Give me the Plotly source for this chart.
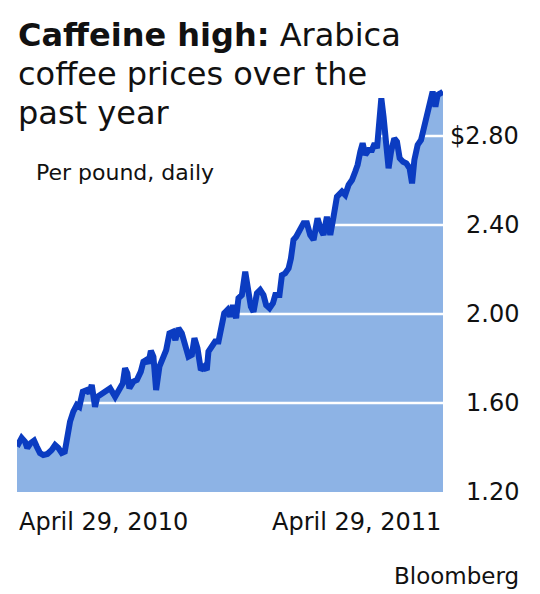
import pandas as pd
import plotly.graph_objects as go

# days after April 29, 2010 and arabica price in $ per pound
days = [
    0, 4.0, 6.9, 8.8, 11.7, 14.6, 16.9, 19.7, 22.5, 26.0, 29.7, 32.6, 35.4, 38.3,
    40.9, 43.1, 45.4, 48.2, 51.2, 53.4, 56.3, 59.7, 61.9, 64.0, 66.8, 68.8, 72.6,
    76.9, 79.7, 84.0, 86.8, 90.6, 92.5, 94.5, 96.2, 99.6, 102.6, 106.0, 108.2,
    110.5, 112.5, 114.6, 116.8, 119.1, 121.9, 124.8, 127.7, 130.5, 133.4, 135.6,
    138.2, 141.1, 143.9, 146.8, 149.7, 151.9, 154.5, 157.4, 160.2, 162.5, 163.9,
    166.8, 169.6, 172.5, 175.4, 177.4, 180.2, 182.5, 184.8, 187.6, 189.6, 192.5,
    195.4, 198.2, 200.2, 202.5, 205.4, 208.2, 211.0, 213.3, 216.2, 219.1, 221.1,
    224.7, 226.8, 229.6, 232.5, 234.5, 236.7, 239.0, 241.9, 245.3, 248.2, 251.0,
    253.9, 257.3, 260.2, 262.4, 265.3, 268.2, 271.0, 273.9, 278.2, 281.0, 283.9,
    286.8, 289.6, 291.6, 293.9, 295.9, 298.2, 301.0, 303.9, 306.2, 308.2, 310.4,
    311.9, 313.8, 316.2, 318.1, 320.2, 323.0, 325.3, 327.6, 330.5, 333.3, 336.1,
    338.2, 340.2, 343.0, 345.9, 348.1, 350.4, 352.4, 353.9, 355.8, 358.2, 360.1,
    362.4, 364.7,
]
prices = [
    1.404, 1.443, 1.426, 1.398, 1.420, 1.431, 1.404, 1.375, 1.366, 1.371, 1.389,
    1.411, 1.398, 1.375, 1.381, 1.449, 1.516, 1.561, 1.591, 1.583, 1.651, 1.658,
    1.644, 1.681, 1.583, 1.628, 1.644, 1.658, 1.666, 1.628, 1.658, 1.689, 1.756,
    1.733, 1.666, 1.696, 1.703, 1.741, 1.786, 1.793, 1.778, 1.835, 1.808, 1.658,
    1.763, 1.796, 1.838, 1.913, 1.920, 1.883, 1.936, 1.913, 1.853, 1.808, 1.816,
    1.891, 1.846, 1.748, 1.763, 1.748, 1.831, 1.853, 1.876, 1.876, 1.973, 2.003,
    2.018, 1.988, 2.040, 1.981, 2.071, 2.085, 2.190, 2.108, 2.033, 2.010, 2.093,
    2.108, 2.085, 2.040, 2.026, 2.048, 2.085, 2.085, 2.175, 2.183, 2.205, 2.250,
    2.333, 2.347, 2.378, 2.408, 2.408, 2.355, 2.333, 2.430, 2.378, 2.355, 2.437,
    2.355, 2.437, 2.527, 2.550, 2.535, 2.580, 2.602, 2.640, 2.670, 2.729, 2.767,
    2.715, 2.737, 2.737, 2.767, 2.745, 2.887, 2.969, 2.887, 2.752, 2.655, 2.729,
    2.789, 2.774, 2.700, 2.684, 2.677, 2.655, 2.587, 2.692, 2.760, 2.782, 2.827,
    2.887, 2.917, 2.962, 2.999, 2.932, 2.984, 2.991, 2.999,
]
grid_values = [1.60, 2.00, 2.40, 2.80]
tick_values = [1.20, 1.60, 2.00, 2.40, 2.80]
tick_labels = ["1.20", "1.60", "2.00", "2.40", "$2.80"]
date_labels = ["April 29, 2010", "April 29, 2011"]
title_lines = ["<b>Caffeine high:</b> Arabica", "coffee prices over the", "past year"]

FILL = "#8db3e5"
LINE = "#0b3cc1"
FONT = "DejaVu Sans"
INK = "#111111"

# plot box inside the 532x586 figure (the page adds an 8px body margin)
L, R, T, B = 9, 97, 79, 102
W, H = 532, 586
PW, PH = W - L - R, H - T - B


def px(x):
    """page pixel x -> paper x"""
    return (x - 8 - L) / PW


def py(y):
    """page pixel y -> paper y"""
    return (H - B - (y - 8)) / PH


start = pd.Timestamp("2010-04-29")
dates = start + pd.to_timedelta(days, unit="D")

fig = go.Figure()
fig.add_trace(go.Scatter(x=dates, y=prices, mode="none", fill="tozeroy",
                         fillcolor=FILL, hoverinfo="skip"))

# white grid lines sit on top of the fill but under the price line
gx, gy = [], []
for v in grid_values:
    gx += [dates[0], dates[-1], None]
    gy += [v, v, None]
fig.add_trace(go.Scatter(x=gx, y=gy, mode="lines",
                         line=dict(color="white", width=2.5), hoverinfo="skip"))

fig.add_trace(go.Scatter(x=dates, y=prices, mode="lines",
                         line=dict(color=LINE, width=6)))

for v, label in zip(tick_values, tick_labels):
    fig.add_annotation(x=px(521), xref="paper", y=v, yref="y", text=label,
                       showarrow=False, xanchor="right", yanchor="middle",
                       font=dict(size=24, color=INK))

fig.add_annotation(x=px(17), xref="paper", y=py(522), yref="paper", text=date_labels[0],
                   showarrow=False, xanchor="left", yanchor="middle",
                   font=dict(size=24, color=INK))
fig.add_annotation(x=px(443), xref="paper", y=py(522), yref="paper", text=date_labels[1],
                   showarrow=False, xanchor="right", yanchor="middle",
                   font=dict(size=24, color=INK))
fig.add_annotation(x=px(521), xref="paper", y=py(576), yref="paper", text="Bloomberg",
                   showarrow=False, xanchor="right", yanchor="middle",
                   font=dict(size=23, color=INK))
fig.add_annotation(x=px(34), xref="paper", y=py(172), yref="paper", text="Per pound, daily",
                   showarrow=False, xanchor="left", yanchor="middle",
                   font=dict(size=22, color=INK))

for line, y in zip(title_lines, [35, 74, 113]):
    fig.add_annotation(x=px(16), xref="paper", y=py(y), yref="paper", text=line,
                       showarrow=False, xanchor="left", yanchor="middle",
                       font=dict(size=32, color=INK))

fig.update_xaxes(visible=False, range=[dates[0], dates[-1]])
fig.update_yaxes(visible=False, range=[1.2, 3.02])
fig.update_layout(
    width=W, height=H,
    margin=dict(l=L, r=R, t=T, b=B),
    plot_bgcolor="white", paper_bgcolor="white",
    showlegend=False,
    font=dict(family=FONT, color=INK),
)

fig.write_html("out.html")
